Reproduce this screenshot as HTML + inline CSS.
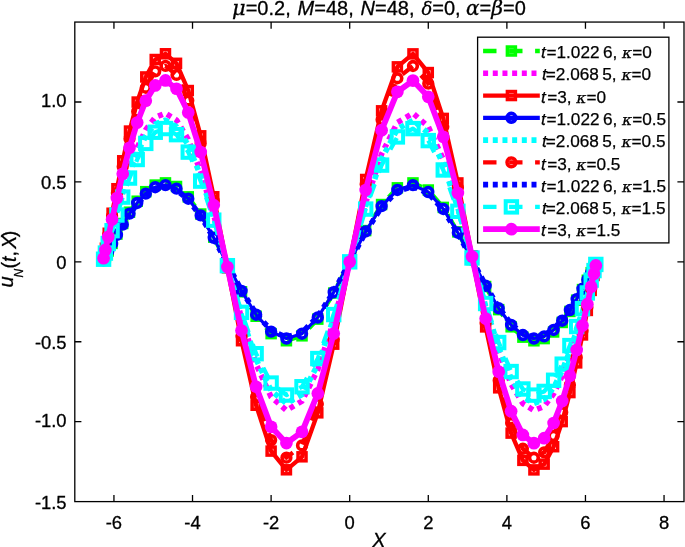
<!DOCTYPE html>
<html><head><meta charset="utf-8"><title>plot</title><style>html,body{margin:0;padding:0;background:#fff}svg{display:block}.g{font-family:"DejaVu Serif",serif;font-style:italic;font-size:90%}</style></head><body>
<svg width="685" height="547" viewBox="0 0 685 547" style="display:block">
<rect width="685" height="547" fill="#fff"/>
<g stroke-linejoin="round" stroke-linecap="butt">
<path d="M103.58,260.28 L105.39,256.65 L108.22,250.99 L112.07,243.40 L116.91,234.09 L122.73,223.49 L129.50,212.22 L137.20,201.21 L145.78,191.68 L155.23,185.07 L165.48,182.89 L176.51,186.51 L188.27,196.84 L200.70,214.03 L213.76,237.15 L227.39,264.11 L241.53,291.77 L256.13,316.25 L271.12,333.64 L286.43,340.73 L302.02,335.81 L317.80,319.12 L333.72,293.07 L349.70,261.83 L365.68,230.59 L381.60,204.54 L397.38,187.85 L412.97,182.93 L428.28,190.02 L443.27,207.41 L457.87,231.89 L472.01,259.55 L485.64,286.51 L498.70,309.63 L511.13,326.82 L522.89,337.15 L533.92,340.77 L544.17,338.59 L553.62,331.98 L562.20,322.45 L569.90,311.44 L576.67,300.17 L582.49,289.57 L587.33,280.26 L591.18,272.67 L594.01,267.01 L595.82,263.38" fill="none" stroke="#00ff00" stroke-width="4.3" stroke-dasharray="13.2 12.5"/>
<rect x="99.58" y="256.28" width="8.0" height="8.0" fill="none" stroke="#00ff00" stroke-width="3.5" stroke-linejoin="miter"/>
<rect x="101.39" y="252.65" width="8.0" height="8.0" fill="none" stroke="#00ff00" stroke-width="3.5" stroke-linejoin="miter"/>
<rect x="104.22" y="246.99" width="8.0" height="8.0" fill="none" stroke="#00ff00" stroke-width="3.5" stroke-linejoin="miter"/>
<rect x="108.07" y="239.40" width="8.0" height="8.0" fill="none" stroke="#00ff00" stroke-width="3.5" stroke-linejoin="miter"/>
<rect x="112.91" y="230.09" width="8.0" height="8.0" fill="none" stroke="#00ff00" stroke-width="3.5" stroke-linejoin="miter"/>
<rect x="118.73" y="219.49" width="8.0" height="8.0" fill="none" stroke="#00ff00" stroke-width="3.5" stroke-linejoin="miter"/>
<rect x="125.50" y="208.22" width="8.0" height="8.0" fill="none" stroke="#00ff00" stroke-width="3.5" stroke-linejoin="miter"/>
<rect x="133.20" y="197.21" width="8.0" height="8.0" fill="none" stroke="#00ff00" stroke-width="3.5" stroke-linejoin="miter"/>
<rect x="141.78" y="187.68" width="8.0" height="8.0" fill="none" stroke="#00ff00" stroke-width="3.5" stroke-linejoin="miter"/>
<rect x="151.23" y="181.07" width="8.0" height="8.0" fill="none" stroke="#00ff00" stroke-width="3.5" stroke-linejoin="miter"/>
<rect x="161.48" y="178.89" width="8.0" height="8.0" fill="none" stroke="#00ff00" stroke-width="3.5" stroke-linejoin="miter"/>
<rect x="172.51" y="182.51" width="8.0" height="8.0" fill="none" stroke="#00ff00" stroke-width="3.5" stroke-linejoin="miter"/>
<rect x="184.27" y="192.84" width="8.0" height="8.0" fill="none" stroke="#00ff00" stroke-width="3.5" stroke-linejoin="miter"/>
<rect x="196.70" y="210.03" width="8.0" height="8.0" fill="none" stroke="#00ff00" stroke-width="3.5" stroke-linejoin="miter"/>
<rect x="209.76" y="233.15" width="8.0" height="8.0" fill="none" stroke="#00ff00" stroke-width="3.5" stroke-linejoin="miter"/>
<rect x="223.39" y="260.11" width="8.0" height="8.0" fill="none" stroke="#00ff00" stroke-width="3.5" stroke-linejoin="miter"/>
<rect x="237.53" y="287.77" width="8.0" height="8.0" fill="none" stroke="#00ff00" stroke-width="3.5" stroke-linejoin="miter"/>
<rect x="252.13" y="312.25" width="8.0" height="8.0" fill="none" stroke="#00ff00" stroke-width="3.5" stroke-linejoin="miter"/>
<rect x="267.12" y="329.64" width="8.0" height="8.0" fill="none" stroke="#00ff00" stroke-width="3.5" stroke-linejoin="miter"/>
<rect x="282.43" y="336.73" width="8.0" height="8.0" fill="none" stroke="#00ff00" stroke-width="3.5" stroke-linejoin="miter"/>
<rect x="298.02" y="331.81" width="8.0" height="8.0" fill="none" stroke="#00ff00" stroke-width="3.5" stroke-linejoin="miter"/>
<rect x="313.80" y="315.12" width="8.0" height="8.0" fill="none" stroke="#00ff00" stroke-width="3.5" stroke-linejoin="miter"/>
<rect x="329.72" y="289.07" width="8.0" height="8.0" fill="none" stroke="#00ff00" stroke-width="3.5" stroke-linejoin="miter"/>
<rect x="345.70" y="257.83" width="8.0" height="8.0" fill="none" stroke="#00ff00" stroke-width="3.5" stroke-linejoin="miter"/>
<rect x="361.68" y="226.59" width="8.0" height="8.0" fill="none" stroke="#00ff00" stroke-width="3.5" stroke-linejoin="miter"/>
<rect x="377.60" y="200.54" width="8.0" height="8.0" fill="none" stroke="#00ff00" stroke-width="3.5" stroke-linejoin="miter"/>
<rect x="393.38" y="183.85" width="8.0" height="8.0" fill="none" stroke="#00ff00" stroke-width="3.5" stroke-linejoin="miter"/>
<rect x="408.97" y="178.93" width="8.0" height="8.0" fill="none" stroke="#00ff00" stroke-width="3.5" stroke-linejoin="miter"/>
<rect x="424.28" y="186.02" width="8.0" height="8.0" fill="none" stroke="#00ff00" stroke-width="3.5" stroke-linejoin="miter"/>
<rect x="439.27" y="203.41" width="8.0" height="8.0" fill="none" stroke="#00ff00" stroke-width="3.5" stroke-linejoin="miter"/>
<rect x="453.87" y="227.89" width="8.0" height="8.0" fill="none" stroke="#00ff00" stroke-width="3.5" stroke-linejoin="miter"/>
<rect x="468.01" y="255.55" width="8.0" height="8.0" fill="none" stroke="#00ff00" stroke-width="3.5" stroke-linejoin="miter"/>
<rect x="481.64" y="282.51" width="8.0" height="8.0" fill="none" stroke="#00ff00" stroke-width="3.5" stroke-linejoin="miter"/>
<rect x="494.70" y="305.63" width="8.0" height="8.0" fill="none" stroke="#00ff00" stroke-width="3.5" stroke-linejoin="miter"/>
<rect x="507.13" y="322.82" width="8.0" height="8.0" fill="none" stroke="#00ff00" stroke-width="3.5" stroke-linejoin="miter"/>
<rect x="518.89" y="333.15" width="8.0" height="8.0" fill="none" stroke="#00ff00" stroke-width="3.5" stroke-linejoin="miter"/>
<rect x="529.92" y="336.77" width="8.0" height="8.0" fill="none" stroke="#00ff00" stroke-width="3.5" stroke-linejoin="miter"/>
<rect x="540.17" y="334.59" width="8.0" height="8.0" fill="none" stroke="#00ff00" stroke-width="3.5" stroke-linejoin="miter"/>
<rect x="549.62" y="327.98" width="8.0" height="8.0" fill="none" stroke="#00ff00" stroke-width="3.5" stroke-linejoin="miter"/>
<rect x="558.20" y="318.45" width="8.0" height="8.0" fill="none" stroke="#00ff00" stroke-width="3.5" stroke-linejoin="miter"/>
<rect x="565.90" y="307.44" width="8.0" height="8.0" fill="none" stroke="#00ff00" stroke-width="3.5" stroke-linejoin="miter"/>
<rect x="572.67" y="296.17" width="8.0" height="8.0" fill="none" stroke="#00ff00" stroke-width="3.5" stroke-linejoin="miter"/>
<rect x="578.49" y="285.57" width="8.0" height="8.0" fill="none" stroke="#00ff00" stroke-width="3.5" stroke-linejoin="miter"/>
<rect x="583.33" y="276.26" width="8.0" height="8.0" fill="none" stroke="#00ff00" stroke-width="3.5" stroke-linejoin="miter"/>
<rect x="587.18" y="268.67" width="8.0" height="8.0" fill="none" stroke="#00ff00" stroke-width="3.5" stroke-linejoin="miter"/>
<rect x="590.01" y="263.01" width="8.0" height="8.0" fill="none" stroke="#00ff00" stroke-width="3.5" stroke-linejoin="miter"/>
<rect x="591.82" y="259.38" width="8.0" height="8.0" fill="none" stroke="#00ff00" stroke-width="3.5" stroke-linejoin="miter"/>
<path d="M103.58,258.92 L105.39,252.08 L108.22,241.42 L112.07,227.12 L116.91,209.62 L122.73,189.65 L129.50,168.43 L137.20,147.71 L145.78,129.77 L155.23,117.32 L165.48,113.21 L176.51,120.03 L188.27,139.48 L200.70,171.83 L213.76,215.36 L227.39,266.13 L241.53,318.19 L256.13,364.27 L271.12,397.01 L286.43,410.38 L302.02,401.10 L317.80,369.69 L333.72,320.65 L349.70,261.83 L365.68,203.01 L381.60,153.97 L397.38,122.56 L412.97,113.28 L428.28,126.65 L443.27,159.39 L457.87,205.47 L472.01,257.53 L485.64,308.30 L498.70,351.83 L511.13,384.18 L522.89,403.63 L533.92,410.45 L544.17,406.34 L553.62,393.89 L562.20,375.95 L569.90,355.23 L576.67,334.01 L582.49,314.04 L587.33,296.54 L591.18,282.24 L594.01,271.58 L595.82,264.74" fill="none" stroke="#ff00ff" stroke-width="5.6" stroke-dasharray="5.0 4.68"/>
<path d="M103.58,257.75 L105.39,248.18 L108.22,233.25 L112.07,213.24 L116.91,188.73 L122.73,160.78 L129.50,131.07 L137.20,102.06 L145.78,76.95 L155.23,59.51 L165.48,53.77 L176.51,63.31 L188.27,90.54 L200.70,135.83 L213.76,196.77 L227.39,267.85 L241.53,340.73 L256.13,405.25 L271.12,451.09 L286.43,469.79 L302.02,456.81 L317.80,412.84 L333.72,344.17 L349.70,261.83 L365.68,179.49 L381.60,110.82 L397.38,66.85 L412.97,53.87 L428.28,72.57 L443.27,118.41 L457.87,182.93 L472.01,255.81 L485.64,326.89 L498.70,387.83 L511.13,433.12 L522.89,460.35 L533.92,469.89 L544.17,464.15 L553.62,446.71 L562.20,421.60 L569.90,392.59 L576.67,362.88 L582.49,334.93 L587.33,310.42 L591.18,290.41 L594.01,275.48 L595.82,265.91" fill="none" stroke="#ff0000" stroke-width="4.3"/>
<rect x="99.58" y="253.75" width="8.0" height="8.0" fill="none" stroke="#ff0000" stroke-width="3.5" stroke-linejoin="miter"/>
<rect x="101.39" y="244.18" width="8.0" height="8.0" fill="none" stroke="#ff0000" stroke-width="3.5" stroke-linejoin="miter"/>
<rect x="104.22" y="229.25" width="8.0" height="8.0" fill="none" stroke="#ff0000" stroke-width="3.5" stroke-linejoin="miter"/>
<rect x="108.07" y="209.24" width="8.0" height="8.0" fill="none" stroke="#ff0000" stroke-width="3.5" stroke-linejoin="miter"/>
<rect x="112.91" y="184.73" width="8.0" height="8.0" fill="none" stroke="#ff0000" stroke-width="3.5" stroke-linejoin="miter"/>
<rect x="118.73" y="156.78" width="8.0" height="8.0" fill="none" stroke="#ff0000" stroke-width="3.5" stroke-linejoin="miter"/>
<rect x="125.50" y="127.07" width="8.0" height="8.0" fill="none" stroke="#ff0000" stroke-width="3.5" stroke-linejoin="miter"/>
<rect x="133.20" y="98.06" width="8.0" height="8.0" fill="none" stroke="#ff0000" stroke-width="3.5" stroke-linejoin="miter"/>
<rect x="141.78" y="72.95" width="8.0" height="8.0" fill="none" stroke="#ff0000" stroke-width="3.5" stroke-linejoin="miter"/>
<rect x="151.23" y="55.51" width="8.0" height="8.0" fill="none" stroke="#ff0000" stroke-width="3.5" stroke-linejoin="miter"/>
<rect x="161.48" y="49.77" width="8.0" height="8.0" fill="none" stroke="#ff0000" stroke-width="3.5" stroke-linejoin="miter"/>
<rect x="172.51" y="59.31" width="8.0" height="8.0" fill="none" stroke="#ff0000" stroke-width="3.5" stroke-linejoin="miter"/>
<rect x="184.27" y="86.54" width="8.0" height="8.0" fill="none" stroke="#ff0000" stroke-width="3.5" stroke-linejoin="miter"/>
<rect x="196.70" y="131.83" width="8.0" height="8.0" fill="none" stroke="#ff0000" stroke-width="3.5" stroke-linejoin="miter"/>
<rect x="209.76" y="192.77" width="8.0" height="8.0" fill="none" stroke="#ff0000" stroke-width="3.5" stroke-linejoin="miter"/>
<rect x="223.39" y="263.85" width="8.0" height="8.0" fill="none" stroke="#ff0000" stroke-width="3.5" stroke-linejoin="miter"/>
<rect x="237.53" y="336.73" width="8.0" height="8.0" fill="none" stroke="#ff0000" stroke-width="3.5" stroke-linejoin="miter"/>
<rect x="252.13" y="401.25" width="8.0" height="8.0" fill="none" stroke="#ff0000" stroke-width="3.5" stroke-linejoin="miter"/>
<rect x="267.12" y="447.09" width="8.0" height="8.0" fill="none" stroke="#ff0000" stroke-width="3.5" stroke-linejoin="miter"/>
<rect x="282.43" y="465.79" width="8.0" height="8.0" fill="none" stroke="#ff0000" stroke-width="3.5" stroke-linejoin="miter"/>
<rect x="298.02" y="452.81" width="8.0" height="8.0" fill="none" stroke="#ff0000" stroke-width="3.5" stroke-linejoin="miter"/>
<rect x="313.80" y="408.84" width="8.0" height="8.0" fill="none" stroke="#ff0000" stroke-width="3.5" stroke-linejoin="miter"/>
<rect x="329.72" y="340.17" width="8.0" height="8.0" fill="none" stroke="#ff0000" stroke-width="3.5" stroke-linejoin="miter"/>
<rect x="345.70" y="257.83" width="8.0" height="8.0" fill="none" stroke="#ff0000" stroke-width="3.5" stroke-linejoin="miter"/>
<rect x="361.68" y="175.49" width="8.0" height="8.0" fill="none" stroke="#ff0000" stroke-width="3.5" stroke-linejoin="miter"/>
<rect x="377.60" y="106.82" width="8.0" height="8.0" fill="none" stroke="#ff0000" stroke-width="3.5" stroke-linejoin="miter"/>
<rect x="393.38" y="62.85" width="8.0" height="8.0" fill="none" stroke="#ff0000" stroke-width="3.5" stroke-linejoin="miter"/>
<rect x="408.97" y="49.87" width="8.0" height="8.0" fill="none" stroke="#ff0000" stroke-width="3.5" stroke-linejoin="miter"/>
<rect x="424.28" y="68.57" width="8.0" height="8.0" fill="none" stroke="#ff0000" stroke-width="3.5" stroke-linejoin="miter"/>
<rect x="439.27" y="114.41" width="8.0" height="8.0" fill="none" stroke="#ff0000" stroke-width="3.5" stroke-linejoin="miter"/>
<rect x="453.87" y="178.93" width="8.0" height="8.0" fill="none" stroke="#ff0000" stroke-width="3.5" stroke-linejoin="miter"/>
<rect x="468.01" y="251.81" width="8.0" height="8.0" fill="none" stroke="#ff0000" stroke-width="3.5" stroke-linejoin="miter"/>
<rect x="481.64" y="322.89" width="8.0" height="8.0" fill="none" stroke="#ff0000" stroke-width="3.5" stroke-linejoin="miter"/>
<rect x="494.70" y="383.83" width="8.0" height="8.0" fill="none" stroke="#ff0000" stroke-width="3.5" stroke-linejoin="miter"/>
<rect x="507.13" y="429.12" width="8.0" height="8.0" fill="none" stroke="#ff0000" stroke-width="3.5" stroke-linejoin="miter"/>
<rect x="518.89" y="456.35" width="8.0" height="8.0" fill="none" stroke="#ff0000" stroke-width="3.5" stroke-linejoin="miter"/>
<rect x="529.92" y="465.89" width="8.0" height="8.0" fill="none" stroke="#ff0000" stroke-width="3.5" stroke-linejoin="miter"/>
<rect x="540.17" y="460.15" width="8.0" height="8.0" fill="none" stroke="#ff0000" stroke-width="3.5" stroke-linejoin="miter"/>
<rect x="549.62" y="442.71" width="8.0" height="8.0" fill="none" stroke="#ff0000" stroke-width="3.5" stroke-linejoin="miter"/>
<rect x="558.20" y="417.60" width="8.0" height="8.0" fill="none" stroke="#ff0000" stroke-width="3.5" stroke-linejoin="miter"/>
<rect x="565.90" y="388.59" width="8.0" height="8.0" fill="none" stroke="#ff0000" stroke-width="3.5" stroke-linejoin="miter"/>
<rect x="572.67" y="358.88" width="8.0" height="8.0" fill="none" stroke="#ff0000" stroke-width="3.5" stroke-linejoin="miter"/>
<rect x="578.49" y="330.93" width="8.0" height="8.0" fill="none" stroke="#ff0000" stroke-width="3.5" stroke-linejoin="miter"/>
<rect x="583.33" y="306.42" width="8.0" height="8.0" fill="none" stroke="#ff0000" stroke-width="3.5" stroke-linejoin="miter"/>
<rect x="587.18" y="286.41" width="8.0" height="8.0" fill="none" stroke="#ff0000" stroke-width="3.5" stroke-linejoin="miter"/>
<rect x="590.01" y="271.48" width="8.0" height="8.0" fill="none" stroke="#ff0000" stroke-width="3.5" stroke-linejoin="miter"/>
<rect x="591.82" y="261.91" width="8.0" height="8.0" fill="none" stroke="#ff0000" stroke-width="3.5" stroke-linejoin="miter"/>
<path d="M103.58,260.33 L105.39,256.80 L108.22,251.29 L112.07,243.92 L116.91,234.88 L122.73,224.57 L129.50,213.62 L137.20,202.93 L145.78,193.67 L155.23,187.24 L165.48,185.12 L176.51,188.64 L188.27,198.68 L200.70,215.38 L213.76,237.85 L227.39,264.05 L241.53,290.92 L256.13,314.70 L271.12,331.60 L286.43,338.50 L302.02,333.71 L317.80,317.50 L333.72,292.19 L349.70,261.83 L365.68,231.47 L381.60,206.16 L397.38,189.95 L412.97,185.16 L428.28,192.06 L443.27,208.96 L457.87,232.74 L472.01,259.61 L485.64,285.81 L498.70,308.28 L511.13,324.98 L522.89,335.02 L533.92,338.54 L544.17,336.42 L553.62,329.99 L562.20,320.73 L569.90,310.04 L576.67,299.09 L582.49,288.78 L587.33,279.74 L591.18,272.37 L594.01,266.86 L595.82,263.33" fill="none" stroke="#0000ff" stroke-width="3.2"/>
<circle cx="103.58" cy="260.33" r="4.35" fill="none" stroke="#0000ff" stroke-width="3.7"/>
<circle cx="105.39" cy="256.80" r="4.35" fill="none" stroke="#0000ff" stroke-width="3.7"/>
<circle cx="108.22" cy="251.29" r="4.35" fill="none" stroke="#0000ff" stroke-width="3.7"/>
<circle cx="112.07" cy="243.92" r="4.35" fill="none" stroke="#0000ff" stroke-width="3.7"/>
<circle cx="116.91" cy="234.88" r="4.35" fill="none" stroke="#0000ff" stroke-width="3.7"/>
<circle cx="122.73" cy="224.57" r="4.35" fill="none" stroke="#0000ff" stroke-width="3.7"/>
<circle cx="129.50" cy="213.62" r="4.35" fill="none" stroke="#0000ff" stroke-width="3.7"/>
<circle cx="137.20" cy="202.93" r="4.35" fill="none" stroke="#0000ff" stroke-width="3.7"/>
<circle cx="145.78" cy="193.67" r="4.35" fill="none" stroke="#0000ff" stroke-width="3.7"/>
<circle cx="155.23" cy="187.24" r="4.35" fill="none" stroke="#0000ff" stroke-width="3.7"/>
<circle cx="165.48" cy="185.12" r="4.35" fill="none" stroke="#0000ff" stroke-width="3.7"/>
<circle cx="176.51" cy="188.64" r="4.35" fill="none" stroke="#0000ff" stroke-width="3.7"/>
<circle cx="188.27" cy="198.68" r="4.35" fill="none" stroke="#0000ff" stroke-width="3.7"/>
<circle cx="200.70" cy="215.38" r="4.35" fill="none" stroke="#0000ff" stroke-width="3.7"/>
<circle cx="213.76" cy="237.85" r="4.35" fill="none" stroke="#0000ff" stroke-width="3.7"/>
<circle cx="227.39" cy="264.05" r="4.35" fill="none" stroke="#0000ff" stroke-width="3.7"/>
<circle cx="241.53" cy="290.92" r="4.35" fill="none" stroke="#0000ff" stroke-width="3.7"/>
<circle cx="256.13" cy="314.70" r="4.35" fill="none" stroke="#0000ff" stroke-width="3.7"/>
<circle cx="271.12" cy="331.60" r="4.35" fill="none" stroke="#0000ff" stroke-width="3.7"/>
<circle cx="286.43" cy="338.50" r="4.35" fill="none" stroke="#0000ff" stroke-width="3.7"/>
<circle cx="302.02" cy="333.71" r="4.35" fill="none" stroke="#0000ff" stroke-width="3.7"/>
<circle cx="317.80" cy="317.50" r="4.35" fill="none" stroke="#0000ff" stroke-width="3.7"/>
<circle cx="333.72" cy="292.19" r="4.35" fill="none" stroke="#0000ff" stroke-width="3.7"/>
<circle cx="349.70" cy="261.83" r="4.35" fill="none" stroke="#0000ff" stroke-width="3.7"/>
<circle cx="365.68" cy="231.47" r="4.35" fill="none" stroke="#0000ff" stroke-width="3.7"/>
<circle cx="381.60" cy="206.16" r="4.35" fill="none" stroke="#0000ff" stroke-width="3.7"/>
<circle cx="397.38" cy="189.95" r="4.35" fill="none" stroke="#0000ff" stroke-width="3.7"/>
<circle cx="412.97" cy="185.16" r="4.35" fill="none" stroke="#0000ff" stroke-width="3.7"/>
<circle cx="428.28" cy="192.06" r="4.35" fill="none" stroke="#0000ff" stroke-width="3.7"/>
<circle cx="443.27" cy="208.96" r="4.35" fill="none" stroke="#0000ff" stroke-width="3.7"/>
<circle cx="457.87" cy="232.74" r="4.35" fill="none" stroke="#0000ff" stroke-width="3.7"/>
<circle cx="472.01" cy="259.61" r="4.35" fill="none" stroke="#0000ff" stroke-width="3.7"/>
<circle cx="485.64" cy="285.81" r="4.35" fill="none" stroke="#0000ff" stroke-width="3.7"/>
<circle cx="498.70" cy="308.28" r="4.35" fill="none" stroke="#0000ff" stroke-width="3.7"/>
<circle cx="511.13" cy="324.98" r="4.35" fill="none" stroke="#0000ff" stroke-width="3.7"/>
<circle cx="522.89" cy="335.02" r="4.35" fill="none" stroke="#0000ff" stroke-width="3.7"/>
<circle cx="533.92" cy="338.54" r="4.35" fill="none" stroke="#0000ff" stroke-width="3.7"/>
<circle cx="544.17" cy="336.42" r="4.35" fill="none" stroke="#0000ff" stroke-width="3.7"/>
<circle cx="553.62" cy="329.99" r="4.35" fill="none" stroke="#0000ff" stroke-width="3.7"/>
<circle cx="562.20" cy="320.73" r="4.35" fill="none" stroke="#0000ff" stroke-width="3.7"/>
<circle cx="569.90" cy="310.04" r="4.35" fill="none" stroke="#0000ff" stroke-width="3.7"/>
<circle cx="576.67" cy="299.09" r="4.35" fill="none" stroke="#0000ff" stroke-width="3.7"/>
<circle cx="582.49" cy="288.78" r="4.35" fill="none" stroke="#0000ff" stroke-width="3.7"/>
<circle cx="587.33" cy="279.74" r="4.35" fill="none" stroke="#0000ff" stroke-width="3.7"/>
<circle cx="591.18" cy="272.37" r="4.35" fill="none" stroke="#0000ff" stroke-width="3.7"/>
<circle cx="594.01" cy="266.86" r="4.35" fill="none" stroke="#0000ff" stroke-width="3.7"/>
<circle cx="595.82" cy="263.33" r="4.35" fill="none" stroke="#0000ff" stroke-width="3.7"/>
<path d="M103.58,259.05 L105.39,252.54 L108.22,242.38 L112.07,228.77 L116.91,212.09 L122.73,193.06 L129.50,172.85 L137.20,153.11 L145.78,136.02 L155.23,124.16 L165.48,120.24 L176.51,126.74 L188.27,145.27 L200.70,176.09 L213.76,217.56 L227.39,265.93 L241.53,315.52 L256.13,359.43 L271.12,390.62 L286.43,403.35 L302.02,394.51 L317.80,364.59 L333.72,317.86 L349.70,261.83 L365.68,205.80 L381.60,159.07 L397.38,129.15 L412.97,120.31 L428.28,133.04 L443.27,164.23 L457.87,208.14 L472.01,257.73 L485.64,306.10 L498.70,347.57 L511.13,378.39 L522.89,396.92 L533.92,403.42 L544.17,399.50 L553.62,387.64 L562.20,370.55 L569.90,350.81 L576.67,330.60 L582.49,311.57 L587.33,294.89 L591.18,281.28 L594.01,271.12 L595.82,264.61" fill="none" stroke="#00ffff" stroke-width="5.6" stroke-dasharray="5.0 4.68"/>
<path d="M103.58,257.99 L105.39,248.98 L108.22,234.92 L112.07,216.08 L116.91,193.00 L122.73,166.67 L129.50,138.71 L137.20,111.39 L145.78,87.74 L155.23,71.32 L165.48,65.91 L176.51,74.89 L188.27,100.54 L200.70,143.19 L213.76,200.57 L227.39,267.50 L241.53,336.12 L256.13,396.88 L271.12,440.04 L286.43,457.65 L302.02,445.43 L317.80,404.02 L333.72,339.37 L349.70,261.83 L365.68,184.29 L381.60,119.64 L397.38,78.23 L412.97,66.01 L428.28,83.62 L443.27,126.78 L457.87,187.54 L472.01,256.16 L485.64,323.09 L498.70,380.47 L511.13,423.12 L522.89,448.77 L533.92,457.75 L544.17,452.34 L553.62,435.92 L562.20,412.27 L569.90,384.95 L576.67,356.99 L582.49,330.66 L587.33,307.58 L591.18,288.74 L594.01,274.68 L595.82,265.67" fill="none" stroke="#ff0000" stroke-width="4.3" stroke-dasharray="13.2 12.5"/>
<circle cx="103.58" cy="257.99" r="4.35" fill="none" stroke="#ff0000" stroke-width="3.6"/>
<circle cx="105.39" cy="248.98" r="4.35" fill="none" stroke="#ff0000" stroke-width="3.6"/>
<circle cx="108.22" cy="234.92" r="4.35" fill="none" stroke="#ff0000" stroke-width="3.6"/>
<circle cx="112.07" cy="216.08" r="4.35" fill="none" stroke="#ff0000" stroke-width="3.6"/>
<circle cx="116.91" cy="193.00" r="4.35" fill="none" stroke="#ff0000" stroke-width="3.6"/>
<circle cx="122.73" cy="166.67" r="4.35" fill="none" stroke="#ff0000" stroke-width="3.6"/>
<circle cx="129.50" cy="138.71" r="4.35" fill="none" stroke="#ff0000" stroke-width="3.6"/>
<circle cx="137.20" cy="111.39" r="4.35" fill="none" stroke="#ff0000" stroke-width="3.6"/>
<circle cx="145.78" cy="87.74" r="4.35" fill="none" stroke="#ff0000" stroke-width="3.6"/>
<circle cx="155.23" cy="71.32" r="4.35" fill="none" stroke="#ff0000" stroke-width="3.6"/>
<circle cx="165.48" cy="65.91" r="4.35" fill="none" stroke="#ff0000" stroke-width="3.6"/>
<circle cx="176.51" cy="74.89" r="4.35" fill="none" stroke="#ff0000" stroke-width="3.6"/>
<circle cx="188.27" cy="100.54" r="4.35" fill="none" stroke="#ff0000" stroke-width="3.6"/>
<circle cx="200.70" cy="143.19" r="4.35" fill="none" stroke="#ff0000" stroke-width="3.6"/>
<circle cx="213.76" cy="200.57" r="4.35" fill="none" stroke="#ff0000" stroke-width="3.6"/>
<circle cx="227.39" cy="267.50" r="4.35" fill="none" stroke="#ff0000" stroke-width="3.6"/>
<circle cx="241.53" cy="336.12" r="4.35" fill="none" stroke="#ff0000" stroke-width="3.6"/>
<circle cx="256.13" cy="396.88" r="4.35" fill="none" stroke="#ff0000" stroke-width="3.6"/>
<circle cx="271.12" cy="440.04" r="4.35" fill="none" stroke="#ff0000" stroke-width="3.6"/>
<circle cx="286.43" cy="457.65" r="4.35" fill="none" stroke="#ff0000" stroke-width="3.6"/>
<circle cx="302.02" cy="445.43" r="4.35" fill="none" stroke="#ff0000" stroke-width="3.6"/>
<circle cx="317.80" cy="404.02" r="4.35" fill="none" stroke="#ff0000" stroke-width="3.6"/>
<circle cx="333.72" cy="339.37" r="4.35" fill="none" stroke="#ff0000" stroke-width="3.6"/>
<circle cx="349.70" cy="261.83" r="4.35" fill="none" stroke="#ff0000" stroke-width="3.6"/>
<circle cx="365.68" cy="184.29" r="4.35" fill="none" stroke="#ff0000" stroke-width="3.6"/>
<circle cx="381.60" cy="119.64" r="4.35" fill="none" stroke="#ff0000" stroke-width="3.6"/>
<circle cx="397.38" cy="78.23" r="4.35" fill="none" stroke="#ff0000" stroke-width="3.6"/>
<circle cx="412.97" cy="66.01" r="4.35" fill="none" stroke="#ff0000" stroke-width="3.6"/>
<circle cx="428.28" cy="83.62" r="4.35" fill="none" stroke="#ff0000" stroke-width="3.6"/>
<circle cx="443.27" cy="126.78" r="4.35" fill="none" stroke="#ff0000" stroke-width="3.6"/>
<circle cx="457.87" cy="187.54" r="4.35" fill="none" stroke="#ff0000" stroke-width="3.6"/>
<circle cx="472.01" cy="256.16" r="4.35" fill="none" stroke="#ff0000" stroke-width="3.6"/>
<circle cx="485.64" cy="323.09" r="4.35" fill="none" stroke="#ff0000" stroke-width="3.6"/>
<circle cx="498.70" cy="380.47" r="4.35" fill="none" stroke="#ff0000" stroke-width="3.6"/>
<circle cx="511.13" cy="423.12" r="4.35" fill="none" stroke="#ff0000" stroke-width="3.6"/>
<circle cx="522.89" cy="448.77" r="4.35" fill="none" stroke="#ff0000" stroke-width="3.6"/>
<circle cx="533.92" cy="457.75" r="4.35" fill="none" stroke="#ff0000" stroke-width="3.6"/>
<circle cx="544.17" cy="452.34" r="4.35" fill="none" stroke="#ff0000" stroke-width="3.6"/>
<circle cx="553.62" cy="435.92" r="4.35" fill="none" stroke="#ff0000" stroke-width="3.6"/>
<circle cx="562.20" cy="412.27" r="4.35" fill="none" stroke="#ff0000" stroke-width="3.6"/>
<circle cx="569.90" cy="384.95" r="4.35" fill="none" stroke="#ff0000" stroke-width="3.6"/>
<circle cx="576.67" cy="356.99" r="4.35" fill="none" stroke="#ff0000" stroke-width="3.6"/>
<circle cx="582.49" cy="330.66" r="4.35" fill="none" stroke="#ff0000" stroke-width="3.6"/>
<circle cx="587.33" cy="307.58" r="4.35" fill="none" stroke="#ff0000" stroke-width="3.6"/>
<circle cx="591.18" cy="288.74" r="4.35" fill="none" stroke="#ff0000" stroke-width="3.6"/>
<circle cx="594.01" cy="274.68" r="4.35" fill="none" stroke="#ff0000" stroke-width="3.6"/>
<circle cx="595.82" cy="265.67" r="4.35" fill="none" stroke="#ff0000" stroke-width="3.6"/>
<path d="M103.58,260.35 L105.39,256.88 L108.22,251.47 L112.07,244.22 L116.91,235.33 L122.73,225.20 L129.50,214.43 L137.20,203.91 L145.78,194.81 L155.23,188.49 L165.48,186.40 L176.51,189.86 L188.27,199.74 L200.70,216.15 L213.76,238.25 L227.39,264.01 L241.53,290.43 L256.13,313.82 L271.12,330.44 L286.43,337.22 L302.02,332.51 L317.80,316.57 L333.72,291.68 L349.70,261.83 L365.68,231.98 L381.60,207.09 L397.38,191.15 L412.97,186.44 L428.28,193.22 L443.27,209.84 L457.87,233.23 L472.01,259.65 L485.64,285.41 L498.70,307.51 L511.13,323.92 L522.89,333.80 L533.92,337.26 L544.17,335.17 L553.62,328.85 L562.20,319.75 L569.90,309.23 L576.67,298.46 L582.49,288.33 L587.33,279.44 L591.18,272.19 L594.01,266.78 L595.82,263.31" fill="none" stroke="#0000ff" stroke-width="5.6" stroke-dasharray="5.0 4.68"/>
<path d="M103.58,259.22 L105.39,253.09 L108.22,243.53 L112.07,230.71 L116.91,215.01 L122.73,197.10 L129.50,178.07 L137.20,159.49 L145.78,143.40 L155.23,132.24 L165.48,128.55 L176.51,134.66 L188.27,152.11 L200.70,181.12 L213.76,220.16 L227.39,265.69 L241.53,312.37 L256.13,353.70 L271.12,383.06 L286.43,395.04 L302.02,386.73 L317.80,358.56 L333.72,314.58 L349.70,261.83 L365.68,209.08 L381.60,165.10 L397.38,136.93 L412.97,128.62 L428.28,140.60 L443.27,169.96 L457.87,211.29 L472.01,257.97 L485.64,303.50 L498.70,342.54 L511.13,371.55 L522.89,389.00 L533.92,395.11 L544.17,391.42 L553.62,380.26 L562.20,364.17 L569.90,345.59 L576.67,326.56 L582.49,308.65 L587.33,292.95 L591.18,280.13 L594.01,270.57 L595.82,264.44" fill="none" stroke="#00ffff" stroke-width="4.3" stroke-dasharray="13.2 12.5"/>
<rect x="97.88" y="253.52" width="11.4" height="11.4" fill="none" stroke="#00ffff" stroke-width="4.0" stroke-linejoin="miter"/>
<rect x="99.69" y="247.39" width="11.4" height="11.4" fill="none" stroke="#00ffff" stroke-width="4.0" stroke-linejoin="miter"/>
<rect x="102.52" y="237.83" width="11.4" height="11.4" fill="none" stroke="#00ffff" stroke-width="4.0" stroke-linejoin="miter"/>
<rect x="106.37" y="225.01" width="11.4" height="11.4" fill="none" stroke="#00ffff" stroke-width="4.0" stroke-linejoin="miter"/>
<rect x="111.21" y="209.31" width="11.4" height="11.4" fill="none" stroke="#00ffff" stroke-width="4.0" stroke-linejoin="miter"/>
<rect x="117.03" y="191.40" width="11.4" height="11.4" fill="none" stroke="#00ffff" stroke-width="4.0" stroke-linejoin="miter"/>
<rect x="123.80" y="172.37" width="11.4" height="11.4" fill="none" stroke="#00ffff" stroke-width="4.0" stroke-linejoin="miter"/>
<rect x="131.50" y="153.79" width="11.4" height="11.4" fill="none" stroke="#00ffff" stroke-width="4.0" stroke-linejoin="miter"/>
<rect x="140.08" y="137.70" width="11.4" height="11.4" fill="none" stroke="#00ffff" stroke-width="4.0" stroke-linejoin="miter"/>
<rect x="149.53" y="126.54" width="11.4" height="11.4" fill="none" stroke="#00ffff" stroke-width="4.0" stroke-linejoin="miter"/>
<rect x="159.78" y="122.85" width="11.4" height="11.4" fill="none" stroke="#00ffff" stroke-width="4.0" stroke-linejoin="miter"/>
<rect x="170.81" y="128.96" width="11.4" height="11.4" fill="none" stroke="#00ffff" stroke-width="4.0" stroke-linejoin="miter"/>
<rect x="182.57" y="146.41" width="11.4" height="11.4" fill="none" stroke="#00ffff" stroke-width="4.0" stroke-linejoin="miter"/>
<rect x="195.00" y="175.42" width="11.4" height="11.4" fill="none" stroke="#00ffff" stroke-width="4.0" stroke-linejoin="miter"/>
<rect x="208.06" y="214.46" width="11.4" height="11.4" fill="none" stroke="#00ffff" stroke-width="4.0" stroke-linejoin="miter"/>
<rect x="221.69" y="259.99" width="11.4" height="11.4" fill="none" stroke="#00ffff" stroke-width="4.0" stroke-linejoin="miter"/>
<rect x="235.83" y="306.67" width="11.4" height="11.4" fill="none" stroke="#00ffff" stroke-width="4.0" stroke-linejoin="miter"/>
<rect x="250.43" y="348.00" width="11.4" height="11.4" fill="none" stroke="#00ffff" stroke-width="4.0" stroke-linejoin="miter"/>
<rect x="265.42" y="377.36" width="11.4" height="11.4" fill="none" stroke="#00ffff" stroke-width="4.0" stroke-linejoin="miter"/>
<rect x="280.73" y="389.34" width="11.4" height="11.4" fill="none" stroke="#00ffff" stroke-width="4.0" stroke-linejoin="miter"/>
<rect x="296.32" y="381.03" width="11.4" height="11.4" fill="none" stroke="#00ffff" stroke-width="4.0" stroke-linejoin="miter"/>
<rect x="312.10" y="352.86" width="11.4" height="11.4" fill="none" stroke="#00ffff" stroke-width="4.0" stroke-linejoin="miter"/>
<rect x="328.02" y="308.88" width="11.4" height="11.4" fill="none" stroke="#00ffff" stroke-width="4.0" stroke-linejoin="miter"/>
<rect x="344.00" y="256.13" width="11.4" height="11.4" fill="none" stroke="#00ffff" stroke-width="4.0" stroke-linejoin="miter"/>
<rect x="359.98" y="203.38" width="11.4" height="11.4" fill="none" stroke="#00ffff" stroke-width="4.0" stroke-linejoin="miter"/>
<rect x="375.90" y="159.40" width="11.4" height="11.4" fill="none" stroke="#00ffff" stroke-width="4.0" stroke-linejoin="miter"/>
<rect x="391.68" y="131.23" width="11.4" height="11.4" fill="none" stroke="#00ffff" stroke-width="4.0" stroke-linejoin="miter"/>
<rect x="407.27" y="122.92" width="11.4" height="11.4" fill="none" stroke="#00ffff" stroke-width="4.0" stroke-linejoin="miter"/>
<rect x="422.58" y="134.90" width="11.4" height="11.4" fill="none" stroke="#00ffff" stroke-width="4.0" stroke-linejoin="miter"/>
<rect x="437.57" y="164.26" width="11.4" height="11.4" fill="none" stroke="#00ffff" stroke-width="4.0" stroke-linejoin="miter"/>
<rect x="452.17" y="205.59" width="11.4" height="11.4" fill="none" stroke="#00ffff" stroke-width="4.0" stroke-linejoin="miter"/>
<rect x="466.31" y="252.27" width="11.4" height="11.4" fill="none" stroke="#00ffff" stroke-width="4.0" stroke-linejoin="miter"/>
<rect x="479.94" y="297.80" width="11.4" height="11.4" fill="none" stroke="#00ffff" stroke-width="4.0" stroke-linejoin="miter"/>
<rect x="493.00" y="336.84" width="11.4" height="11.4" fill="none" stroke="#00ffff" stroke-width="4.0" stroke-linejoin="miter"/>
<rect x="505.43" y="365.85" width="11.4" height="11.4" fill="none" stroke="#00ffff" stroke-width="4.0" stroke-linejoin="miter"/>
<rect x="517.19" y="383.30" width="11.4" height="11.4" fill="none" stroke="#00ffff" stroke-width="4.0" stroke-linejoin="miter"/>
<rect x="528.22" y="389.41" width="11.4" height="11.4" fill="none" stroke="#00ffff" stroke-width="4.0" stroke-linejoin="miter"/>
<rect x="538.47" y="385.72" width="11.4" height="11.4" fill="none" stroke="#00ffff" stroke-width="4.0" stroke-linejoin="miter"/>
<rect x="547.92" y="374.56" width="11.4" height="11.4" fill="none" stroke="#00ffff" stroke-width="4.0" stroke-linejoin="miter"/>
<rect x="556.50" y="358.47" width="11.4" height="11.4" fill="none" stroke="#00ffff" stroke-width="4.0" stroke-linejoin="miter"/>
<rect x="564.20" y="339.89" width="11.4" height="11.4" fill="none" stroke="#00ffff" stroke-width="4.0" stroke-linejoin="miter"/>
<rect x="570.97" y="320.86" width="11.4" height="11.4" fill="none" stroke="#00ffff" stroke-width="4.0" stroke-linejoin="miter"/>
<rect x="576.79" y="302.95" width="11.4" height="11.4" fill="none" stroke="#00ffff" stroke-width="4.0" stroke-linejoin="miter"/>
<rect x="581.63" y="287.25" width="11.4" height="11.4" fill="none" stroke="#00ffff" stroke-width="4.0" stroke-linejoin="miter"/>
<rect x="585.48" y="274.43" width="11.4" height="11.4" fill="none" stroke="#00ffff" stroke-width="4.0" stroke-linejoin="miter"/>
<rect x="588.31" y="264.87" width="11.4" height="11.4" fill="none" stroke="#00ffff" stroke-width="4.0" stroke-linejoin="miter"/>
<rect x="590.12" y="258.74" width="11.4" height="11.4" fill="none" stroke="#00ffff" stroke-width="4.0" stroke-linejoin="miter"/>
<path d="M103.58,258.27 L105.39,249.93 L108.22,236.92 L112.07,219.47 L116.91,198.11 L122.73,173.74 L129.50,147.84 L137.20,122.56 L145.78,100.66 L155.23,85.46 L165.48,80.45 L176.51,88.77 L188.27,112.51 L200.70,151.99 L213.76,205.12 L227.39,267.08 L241.53,330.61 L256.13,386.86 L271.12,426.81 L286.43,443.12 L302.02,431.80 L317.80,393.47 L333.72,333.61 L349.70,261.83 L365.68,190.05 L381.60,130.19 L397.38,91.86 L412.97,80.54 L428.28,96.85 L443.27,136.80 L457.87,193.05 L472.01,256.58 L485.64,318.54 L498.70,371.67 L511.13,411.15 L522.89,434.89 L533.92,443.21 L544.17,438.20 L553.62,423.00 L562.20,401.10 L569.90,375.82 L576.67,349.92 L582.49,325.55 L587.33,304.19 L591.18,286.74 L594.01,273.73 L595.82,265.39" fill="none" stroke="#ff00ff" stroke-width="5.8"/>
<circle cx="103.58" cy="258.27" r="6.35" fill="#ff00ff" stroke="none"/>
<circle cx="105.39" cy="249.93" r="6.35" fill="#ff00ff" stroke="none"/>
<circle cx="108.22" cy="236.92" r="6.35" fill="#ff00ff" stroke="none"/>
<circle cx="112.07" cy="219.47" r="6.35" fill="#ff00ff" stroke="none"/>
<circle cx="116.91" cy="198.11" r="6.35" fill="#ff00ff" stroke="none"/>
<circle cx="122.73" cy="173.74" r="6.35" fill="#ff00ff" stroke="none"/>
<circle cx="129.50" cy="147.84" r="6.35" fill="#ff00ff" stroke="none"/>
<circle cx="137.20" cy="122.56" r="6.35" fill="#ff00ff" stroke="none"/>
<circle cx="145.78" cy="100.66" r="6.35" fill="#ff00ff" stroke="none"/>
<circle cx="155.23" cy="85.46" r="6.35" fill="#ff00ff" stroke="none"/>
<circle cx="165.48" cy="80.45" r="6.35" fill="#ff00ff" stroke="none"/>
<circle cx="176.51" cy="88.77" r="6.35" fill="#ff00ff" stroke="none"/>
<circle cx="188.27" cy="112.51" r="6.35" fill="#ff00ff" stroke="none"/>
<circle cx="200.70" cy="151.99" r="6.35" fill="#ff00ff" stroke="none"/>
<circle cx="213.76" cy="205.12" r="6.35" fill="#ff00ff" stroke="none"/>
<circle cx="227.39" cy="267.08" r="6.35" fill="#ff00ff" stroke="none"/>
<circle cx="241.53" cy="330.61" r="6.35" fill="#ff00ff" stroke="none"/>
<circle cx="256.13" cy="386.86" r="6.35" fill="#ff00ff" stroke="none"/>
<circle cx="271.12" cy="426.81" r="6.35" fill="#ff00ff" stroke="none"/>
<circle cx="286.43" cy="443.12" r="6.35" fill="#ff00ff" stroke="none"/>
<circle cx="302.02" cy="431.80" r="6.35" fill="#ff00ff" stroke="none"/>
<circle cx="317.80" cy="393.47" r="6.35" fill="#ff00ff" stroke="none"/>
<circle cx="333.72" cy="333.61" r="6.35" fill="#ff00ff" stroke="none"/>
<circle cx="349.70" cy="261.83" r="6.35" fill="#ff00ff" stroke="none"/>
<circle cx="365.68" cy="190.05" r="6.35" fill="#ff00ff" stroke="none"/>
<circle cx="381.60" cy="130.19" r="6.35" fill="#ff00ff" stroke="none"/>
<circle cx="397.38" cy="91.86" r="6.35" fill="#ff00ff" stroke="none"/>
<circle cx="412.97" cy="80.54" r="6.35" fill="#ff00ff" stroke="none"/>
<circle cx="428.28" cy="96.85" r="6.35" fill="#ff00ff" stroke="none"/>
<circle cx="443.27" cy="136.80" r="6.35" fill="#ff00ff" stroke="none"/>
<circle cx="457.87" cy="193.05" r="6.35" fill="#ff00ff" stroke="none"/>
<circle cx="472.01" cy="256.58" r="6.35" fill="#ff00ff" stroke="none"/>
<circle cx="485.64" cy="318.54" r="6.35" fill="#ff00ff" stroke="none"/>
<circle cx="498.70" cy="371.67" r="6.35" fill="#ff00ff" stroke="none"/>
<circle cx="511.13" cy="411.15" r="6.35" fill="#ff00ff" stroke="none"/>
<circle cx="522.89" cy="434.89" r="6.35" fill="#ff00ff" stroke="none"/>
<circle cx="533.92" cy="443.21" r="6.35" fill="#ff00ff" stroke="none"/>
<circle cx="544.17" cy="438.20" r="6.35" fill="#ff00ff" stroke="none"/>
<circle cx="553.62" cy="423.00" r="6.35" fill="#ff00ff" stroke="none"/>
<circle cx="562.20" cy="401.10" r="6.35" fill="#ff00ff" stroke="none"/>
<circle cx="569.90" cy="375.82" r="6.35" fill="#ff00ff" stroke="none"/>
<circle cx="576.67" cy="349.92" r="6.35" fill="#ff00ff" stroke="none"/>
<circle cx="582.49" cy="325.55" r="6.35" fill="#ff00ff" stroke="none"/>
<circle cx="587.33" cy="304.19" r="6.35" fill="#ff00ff" stroke="none"/>
<circle cx="591.18" cy="286.74" r="6.35" fill="#ff00ff" stroke="none"/>
<circle cx="594.01" cy="273.73" r="6.35" fill="#ff00ff" stroke="none"/>
<circle cx="595.82" cy="265.39" r="6.35" fill="#ff00ff" stroke="none"/>
</g>
<g stroke="#000" stroke-width="1.3" fill="none">
<rect x="74.8" y="22.06" width="609.2" height="479.54"/>
<path d="M113.94,501.6 v-6.6 M113.94,22.06 v6.6"/>
<path d="M192.52,501.6 v-6.6 M192.52,22.06 v6.6"/>
<path d="M271.11,501.6 v-6.6 M271.11,22.06 v6.6"/>
<path d="M349.70,501.6 v-6.6 M349.70,22.06 v6.6"/>
<path d="M428.29,501.6 v-6.6 M428.29,22.06 v6.6"/>
<path d="M506.88,501.6 v-6.6 M506.88,22.06 v6.6"/>
<path d="M585.46,501.6 v-6.6 M585.46,22.06 v6.6"/>
<path d="M664.05,501.6 v-6.6 M664.05,22.06 v6.6"/>
<path d="M74.8,421.68 h6.6 M684.0,421.68 h-6.6"/>
<path d="M74.8,341.75 h6.6 M684.0,341.75 h-6.6"/>
<path d="M74.8,261.83 h6.6 M684.0,261.83 h-6.6"/>
<path d="M74.8,181.90 h6.6 M684.0,181.90 h-6.6"/>
<path d="M74.8,101.98 h6.6 M684.0,101.98 h-6.6"/>
</g>
<g font-family="'Liberation Sans', sans-serif" font-size="18.4" fill="#000" stroke="#000" stroke-width="0.3">
<text x="113.94" y="528.5" text-anchor="middle">-6</text>
<text x="192.52" y="528.5" text-anchor="middle">-4</text>
<text x="271.11" y="528.5" text-anchor="middle">-2</text>
<text x="349.70" y="528.5" text-anchor="middle">0</text>
<text x="428.29" y="528.5" text-anchor="middle">2</text>
<text x="506.88" y="528.5" text-anchor="middle">4</text>
<text x="585.46" y="528.5" text-anchor="middle">6</text>
<text x="664.05" y="528.5" text-anchor="middle">8</text>
<text x="66.6" y="508.50" text-anchor="end">-1.5</text>
<text x="66.6" y="426.68" text-anchor="end">-1.0</text>
<text x="66.6" y="348.95" text-anchor="end">-0.5</text>
<text x="66.6" y="269.03" text-anchor="end">0</text>
<text x="66.6" y="189.10" text-anchor="end">0.5</text>
<text x="66.6" y="106.98" text-anchor="end">1.0</text>
<text x="232" y="14.6" font-size="20" word-spacing="1.3"><tspan class="g" style="font-size:21px">μ</tspan>=0.2, <tspan font-style="italic">M</tspan>=48, <tspan font-style="italic">N</tspan>=48, <tspan class="g" style="font-size:18px">δ</tspan>=0, <tspan class="g" style="font-size:20px" dx="-1.5">α</tspan>=<tspan class="g" style="font-size:20.5px">β</tspan>=0</text>
<text x="379" y="547" text-anchor="middle" font-style="italic" font-size="20">X</text>
<g transform="translate(0,287.6) rotate(-90)"><text x="0" y="12.8" font-size="20" font-style="italic">u</text><text x="10.2" y="23" font-size="12" font-style="italic">N</text><text x="19" y="16.4" font-size="19.6">(<tspan font-style="italic">t</tspan>,<tspan font-style="italic" dx="2.4">X</tspan><tspan dx="-1.6">)</tspan></text></g>
</g>
<rect x="477.6" y="37.2" width="191.29999999999995" height="205.7" fill="#fff" stroke="#000" stroke-width="1.3"/>
<g font-family="'Liberation Sans', sans-serif" font-size="17.2" fill="#000" stroke="#000" stroke-width="0.25">
<path d="M483.1,51.00 H539.8" stroke="#00ff00" stroke-width="4.3" fill="none" stroke-dasharray="13.4 12.6"/>
<rect x="507.40" y="47.00" width="8.0" height="8.0" fill="none" stroke="#00ff00" stroke-width="3.5" stroke-linejoin="miter"/>
<text x="541.0" y="58.20"><tspan font-style="italic" dx="0">t</tspan><tspan dx="0.7">=</tspan>1.022 6, <tspan class="g">κ</tspan>=0</text>
<path d="M483.1,73.27 H539.8" stroke="#ff00ff" stroke-width="5.6" fill="none" stroke-dasharray="5.0 4.68"/>
<text x="541.0" y="80.47"><tspan font-style="italic" dx="0.9">t</tspan><tspan dx="-0.9">=</tspan>2.068 5, <tspan class="g">κ</tspan>=0</text>
<path d="M483.1,95.54 H539.8" stroke="#ff0000" stroke-width="4.3" fill="none"/>
<rect x="507.40" y="91.54" width="8.0" height="8.0" fill="none" stroke="#ff0000" stroke-width="3.5" stroke-linejoin="miter"/>
<text x="541.0" y="102.74"><tspan font-style="italic" dx="0">t</tspan><tspan dx="1.4">=</tspan>3, <tspan class="g">κ</tspan>=0</text>
<path d="M483.1,117.81 H539.8" stroke="#0000ff" stroke-width="4.3" fill="none"/>
<circle cx="511.40" cy="117.81" r="4.35" fill="none" stroke="#0000ff" stroke-width="3.7"/>
<text x="541.0" y="125.01"><tspan font-style="italic" dx="0">t</tspan><tspan dx="0.7">=</tspan>1.022 6, <tspan class="g">κ</tspan>=0.5</text>
<path d="M483.1,140.08 H539.8" stroke="#00ffff" stroke-width="5.6" fill="none" stroke-dasharray="5.0 4.68"/>
<text x="541.0" y="147.28"><tspan font-style="italic" dx="0.9">t</tspan><tspan dx="-0.9">=</tspan>2.068 5, <tspan class="g">κ</tspan>=0.5</text>
<path d="M483.1,162.35 H539.8" stroke="#ff0000" stroke-width="4.3" fill="none" stroke-dasharray="13.4 12.6"/>
<circle cx="511.40" cy="162.35" r="4.35" fill="none" stroke="#ff0000" stroke-width="3.6"/>
<text x="541.0" y="169.55"><tspan font-style="italic" dx="0">t</tspan><tspan dx="1.4">=</tspan>3, <tspan class="g">κ</tspan>=0.5</text>
<path d="M483.1,184.62 H539.8" stroke="#0000ff" stroke-width="5.6" fill="none" stroke-dasharray="5.0 4.68"/>
<text x="541.0" y="191.82"><tspan font-style="italic" dx="0">t</tspan><tspan dx="0.7">=</tspan>1.022 6, <tspan class="g">κ</tspan>=1.5</text>
<path d="M483.1,206.89 H539.8" stroke="#00ffff" stroke-width="4.3" fill="none" stroke-dasharray="13.4 12.6"/>
<rect x="505.70" y="201.19" width="11.4" height="11.4" fill="none" stroke="#00ffff" stroke-width="4.0" stroke-linejoin="miter"/>
<text x="541.0" y="214.09"><tspan font-style="italic" dx="0.9">t</tspan><tspan dx="-0.9">=</tspan>2.068 5, <tspan class="g">κ</tspan>=1.5</text>
<path d="M483.1,229.16 H539.8" stroke="#ff00ff" stroke-width="5.8" fill="none"/>
<circle cx="511.40" cy="229.16" r="6.35" fill="#ff00ff" stroke="none"/>
<text x="541.0" y="236.36"><tspan font-style="italic" dx="0">t</tspan><tspan dx="1.4">=</tspan>3, <tspan class="g">κ</tspan>=1.5</text>
</g>
</svg>
</body></html>
